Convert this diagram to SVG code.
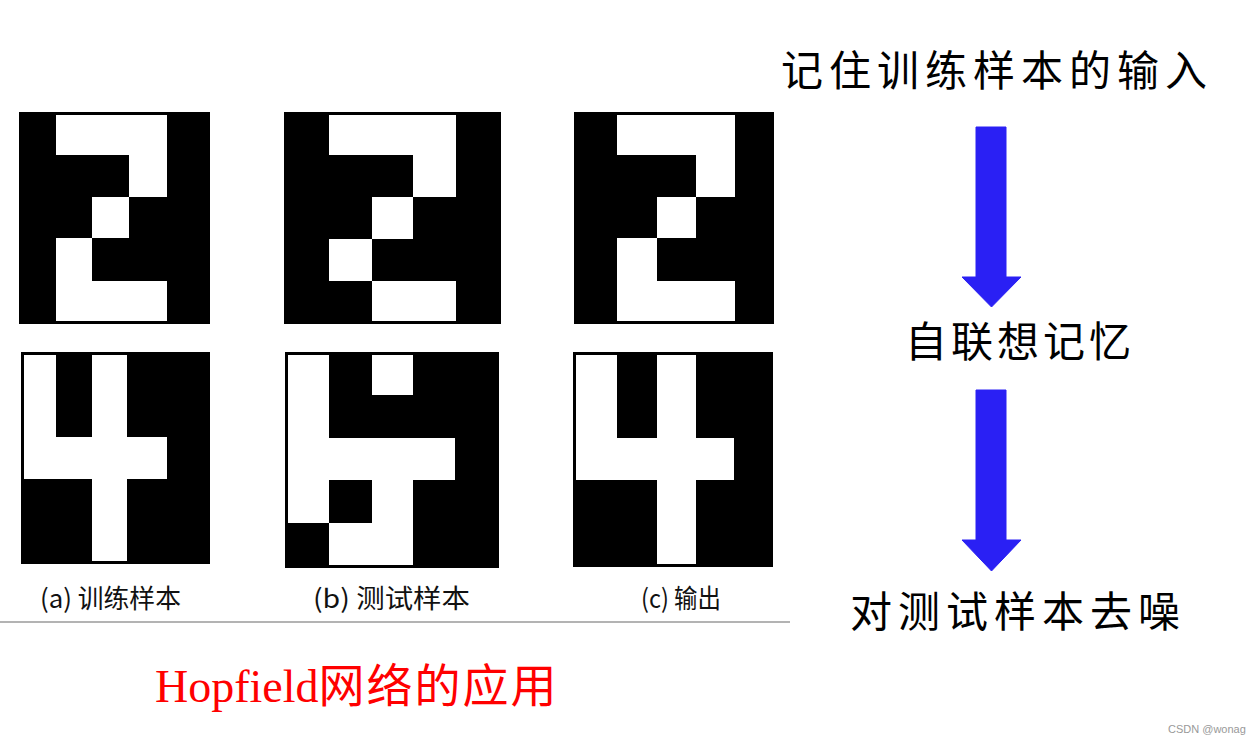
<svg xmlns="http://www.w3.org/2000/svg" width="1256" height="743" viewBox="0 0 1256 743">
<style>
.frame{fill:#000;stroke:#000;stroke-width:2}
.w{fill:#fff}
.cap{font-family:"Noto Sans CJK SC","Liberation Sans",sans-serif;font-size:26px;fill:#111}
.big{font-family:"Noto Sans CJK SC",sans-serif;font-size:42px;fill:#000;letter-spacing:6px}
.arrow{fill:#2a20f4;stroke:#2a20f4;stroke-width:1;stroke-linejoin:round}
</style>
<rect width="1256" height="743" fill="#fff"/>
<g id="grid-a-2">
<rect class="frame" x="20" y="113" width="189" height="210"/>
<rect class="w" x="56" y="115" width="111" height="40"/>
<rect class="w" x="129" y="154" width="38" height="43"/>
<rect class="w" x="92" y="197" width="37" height="41"/>
<rect class="w" x="56" y="238" width="36" height="44"/>
<rect class="w" x="56" y="281" width="111" height="40"/>
</g>
<g id="grid-b-2">
<rect class="frame" x="285" y="113" width="215" height="210"/>
<rect class="w" x="329" y="115" width="127" height="40"/>
<rect class="w" x="413" y="154" width="43" height="43"/>
<rect class="w" x="372" y="197" width="41" height="42"/>
<rect class="w" x="329" y="239" width="43" height="42"/>
<rect class="w" x="372" y="281" width="84" height="40"/>
</g>
<g id="grid-c-2">
<rect class="frame" x="575" y="113" width="198" height="210"/>
<rect class="w" x="617" y="115" width="118" height="40"/>
<rect class="w" x="696" y="154" width="39" height="43"/>
<rect class="w" x="657" y="197" width="39" height="41"/>
<rect class="w" x="617" y="238" width="40" height="44"/>
<rect class="w" x="617" y="281" width="118" height="40"/>
</g>
<g id="grid-a-4">
<rect class="frame" x="22" y="353" width="187" height="210"/>
<rect class="w" x="24" y="355" width="32" height="124"/>
<rect class="w" x="92" y="355" width="35" height="206"/>
<rect class="w" x="24" y="437" width="143" height="42"/>
</g>
<g id="grid-b-4">
<rect class="frame" x="286" y="353" width="212" height="214"/>
<rect class="w" x="288" y="355" width="41" height="168"/>
<rect class="w" x="372" y="355" width="41" height="40"/>
<rect class="w" x="288" y="438" width="167" height="42"/>
<rect class="w" x="372" y="479" width="41" height="45"/>
<rect class="w" x="329" y="523" width="84" height="42"/>
</g>
<g id="grid-c-4">
<rect class="frame" x="574" y="353" width="198" height="213"/>
<rect class="w" x="576" y="355" width="41" height="125"/>
<rect class="w" x="657" y="355" width="39" height="209"/>
<rect class="w" x="576" y="438" width="158" height="42"/>
</g>
<g id="captions">
<text class="cap" x="40" y="608" textLength="141" lengthAdjust="spacingAndGlyphs">(a) 训练样本</text>
<text class="cap" x="313" y="608" textLength="157" lengthAdjust="spacingAndGlyphs">(b) 测试样本</text>
<text class="cap" x="641" y="608" textLength="80" lengthAdjust="spacingAndGlyphs">(c) 输出</text>
</g>
<line x1="0" y1="622" x2="790" y2="622" stroke="#9a9a9a" stroke-width="1.5"/>
<g id="node-memorize"><text class="big" x="781" y="86">记住训练样本的输入</text></g>
<g id="node-assoc"><text class="big" x="905" y="357" style="letter-spacing:4px">自联想记忆</text></g>
<g id="node-denoise"><text class="big" x="850" y="627">对测试样本去噪</text></g>
<g id="connectors">
<path class="arrow" d="M976,127 H1006 V277 H1021 L991.5,307 L962,277 H976 Z"/>
<path class="arrow" d="M976,390 H1006 V540 H1021 L991.5,571 L962,540 H976 Z"/>
</g>
<text x="155" y="702" font-family="Liberation Serif,Noto Sans CJK SC,serif" font-size="46" fill="#ff0000">Hopfield<tspan font-family="Noto Sans CJK SC,sans-serif" letter-spacing="2">网络的应用</tspan></text>
<text x="1168" y="733" font-family="Liberation Sans,sans-serif" font-size="11" fill="#999">CSDN @wonag</text>
</svg>
